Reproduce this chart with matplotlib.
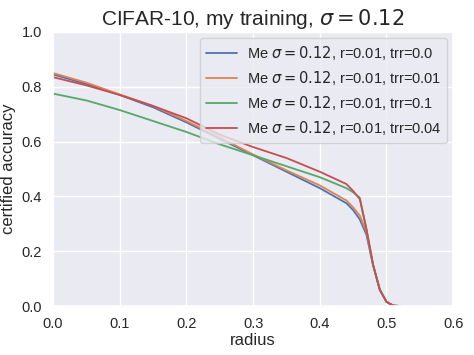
import matplotlib
matplotlib.use("Agg")
import matplotlib.pyplot as plt
import seaborn as sns

radius = [0.0, 0.05, 0.1, 0.15, 0.2, 0.25, 0.3, 0.35, 0.4, 0.44, 0.45, 0.46,
          0.47, 0.48, 0.49, 0.5, 0.51, 0.52]

acc_trr_0 = [0.845, 0.81, 0.77, 0.725, 0.67, 0.61, 0.55, 0.49, 0.43, 0.375, 0.35,
             0.316, 0.26, 0.147, 0.058, 0.016, 0.002, 0.0]
acc_trr_001 = [0.85, 0.815, 0.772, 0.73, 0.675, 0.615, 0.553, 0.495, 0.44, 0.385,
               0.36, 0.33, 0.27, 0.15, 0.06, 0.016, 0.002, 0.0]
acc_trr_01 = [0.775, 0.75, 0.715, 0.675, 0.635, 0.59, 0.55, 0.51, 0.47, 0.43, 0.415,
              0.395, 0.28, 0.15, 0.06, 0.015, 0.0, 0.0]
acc_trr_004 = [0.835, 0.805, 0.77, 0.73, 0.685, 0.625, 0.58, 0.54, 0.49, 0.445,
               0.42, 0.39, 0.28, 0.15, 0.06, 0.015, 0.002, 0.0]

labels = ["Me $\\sigma = 0.12$, r=0.01, trr=0.0",
          "Me $\\sigma = 0.12$, r=0.01, trr=0.01",
          "Me $\\sigma = 0.12$, r=0.01, trr=0.1",
          "Me $\\sigma = 0.12$, r=0.01, trr=0.04"]

sns.set_theme()
plt.rcParams["font.family"] = ["Liberation Sans", "DejaVu Sans"]
plt.rcParams["mathtext.fontset"] = "dejavusans"

fig, ax = plt.subplots(figsize=(4.74, 3.55), dpi=100)
fig.subplots_adjust(left=0.112, right=0.956, top=0.91, bottom=0.138)

for ys, lab in zip([acc_trr_0, acc_trr_001, acc_trr_01, acc_trr_004], labels):
    ax.plot(radius, ys, label=lab, linewidth=1.3)

ax.set_xlim(0, 0.6)
ax.set_ylim(0, 1.0)
ax.tick_params(labelsize=10.5, pad=2)
ax.set_xlabel("radius", fontsize=12, labelpad=1)
ax.set_ylabel("certified accuracy", fontsize=12, labelpad=4)
ax.set_title("CIFAR-10, my training, $\\sigma = 0.12$", fontsize=15, pad=5)
ax.legend(loc="upper right", fontsize=10.5, handlelength=2.1, handletextpad=0.7,
          borderaxespad=0.4, labelspacing=0.5)

fig.savefig("out.png")
